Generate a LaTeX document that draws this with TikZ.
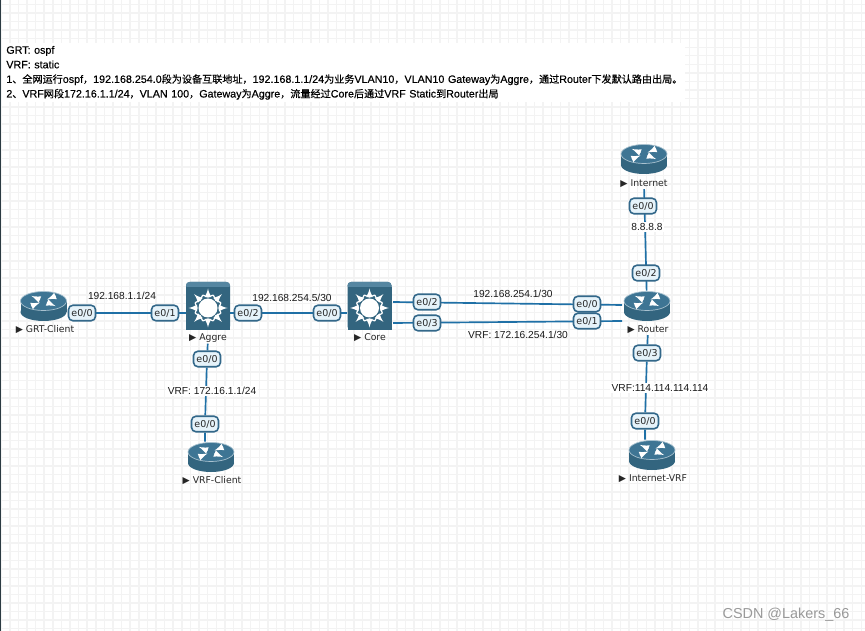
\documentclass[tikz,border=0pt]{standalone}
\usepackage{fontspec}
\setmainfont{Liberation Sans}
\newfontfamily\cjk[FakeBold=0.35]{Noto Sans CJK SC}
\newfontfamily\notefont[FakeBold=0.35]{Liberation Sans}
\newfontfamily\labelfont{DejaVu Sans}
\newcommand{\cn}[1]{{\cjk\fontsize{5.75}{8.3}\selectfont #1}}
\usetikzlibrary{positioning,backgrounds}
\definecolor{icondark}{HTML}{33657F}
\definecolor{icontop}{HTML}{3E7594}
\definecolor{linkblue}{HTML}{1F70A6}
\definecolor{portedge}{HTML}{33688A}
\definecolor{portfill}{HTML}{E6F3FA}
\definecolor{gridgrey}{HTML}{F3F3F3}
\definecolor{frameline}{HTML}{2B3A42}

\tikzset{
  routerbox/.style={minimum width=0.92cm, minimum height=0.6cm, inner sep=0pt},
  switchbox/.style={minimum width=0.88cm, minimum height=0.96cm, inner sep=0pt},
  portbox/.style={draw=portedge, line width=0.9pt, fill=portfill, rounded corners=2.5pt,
    minimum width=0.54cm, minimum height=0.31cm, inner sep=0pt, text=black!85,
    font=\labelfont\fontsize{5.4}{6}\selectfont},
  namelabel/.style={inner sep=0.5pt, text=black!85, font=\labelfont\fontsize{5.3}{6}\selectfont},
  addrlabel/.style={fill=white, inner sep=1pt, text=black!90, font=\fontsize{5.8}{7}\selectfont},
  link/.style={draw=linkblue, line width=0.95pt},
  routericon/.pic={
    \fill[icondark] (-23,-5) rectangle (23,6);
    \fill[icondark] (0,6) ellipse [x radius=23, y radius=9];
    \fill[icontop, draw=white!55!icontop, line width=0.4pt] (0,-5) ellipse [x radius=23, y radius=9.5];
    \begin{scope}[shift={(0,-5)}, yscale=0.42]
      \foreach \a in {45,225} \draw[white, line width=0.8pt, -latex] (\a:5) -- (\a:17);
      \foreach \a in {135,315} \draw[white, line width=0.8pt, -latex] (\a:17) -- (\a:5);
    \end{scope}
  },
  switchicon/.pic={
    \fill[icondark, rounded corners=2pt] (-22,-24) rectangle (22,24);
    \fill[white!12!icontop, rounded corners=2pt] (-22,-24) rectangle (22,-17);
    \fill[icondark] (-22,-19) rectangle (22,24);
    \begin{scope}[shift={(0,2)}]
      \foreach \a in {0,45,...,315} {
        \draw[white, line width=0.7pt, -latex] (\a:12) -- (\a:19.5);
        \draw[white, line width=0.7pt] (\a-22.5:14) -- (\a:11) -- (\a+22.5:14);
      }
      \fill[white] (0,0) circle [radius=9.5];
    \end{scope}
  }
}

\begin{document}
\begin{tikzpicture}[x=0.02cm, y=-0.02cm]
  \useasboundingbox (0,0) rectangle (865,631);

  % devices
  \node [routerbox] (grt) at (43.5,306) {};
  \node [routerbox] (vrfclient) at (211,457) {};
  \node [routerbox] (internet) at (644,159) {};
  \node [routerbox] (router) at (647,306) {};
  \node [routerbox] (internetvrf) at (652,455) {};
  \node [switchbox] (aggre) at (208,306) {};
  \node [switchbox] (core) at (369.5,306) {};
  \pic at (grt) {routericon};
  \pic at (vrfclient) {routericon};
  \pic at (internet) {routericon};
  \pic at (router) {routericon};
  \pic at (internetvrf) {routericon};
  \pic at (aggre) {switchicon};
  \pic at (core) {switchicon};

  % names
  \node [namelabel] (grtname) at (45,330) {▶ GRT-Client};
  \node [namelabel] (aggrename) at (208,338) {▶ Aggre};
  \node [namelabel] (corename) at (370,338) {▶ Core};
  \node [namelabel] (routername) at (648,330) {▶ Router};
  \node [namelabel] (internetname) at (644,184) {▶ Internet};
  \node [namelabel] (vrfclientname) at (212,481) {▶ VRF-Client};
  \node [namelabel] (internetvrfname) at (653,479) {▶ Internet-VRF};

  % ports
  \node [portbox] (grtp0) at (82,313) {e0/0};
  \node [portbox] (aggrep1) at (165,313) {e0/1};
  \node [portbox] (aggrep2) at (248,313) {e0/2};
  \node [portbox] (corep0) at (327,313) {e0/0};
  \node [portbox] (corep2) at (427,302) {e0/2};
  \node [portbox] (corep3) at (427,323) {e0/3};
  \node [portbox] (routerp0) at (587,304) {e0/0};
  \node [portbox] (routerp1) at (587,321) {e0/1};
  \node [portbox] (routerp2) at (646,273) {e0/2};
  \node [portbox] (routerp3) at (647,353) {e0/3};
  \node [portbox] (internetp0) at (643,206) {e0/0};
  \node [portbox] (ivrfp0) at (645,421) {e0/0};
  \node [portbox] (aggrep0) at (207,359) {e0/0};
  \node [portbox] (vrfclientp0) at (205,424) {e0/0};

  % addresses
  \node [addrlabel, fill=none] (grtaddr) at (122,296) {192.168.1.1/24};
  \node [addrlabel, fill=none] (aggreaddr) at (292,298) {192.168.254.5/30};
  \node [addrlabel, fill=none] (routeraddr) at (513,294) {192.168.254.1/30};
  \node [addrlabel, fill=none] (vrfaddr) at (518,335) {VRF: 172.16.254.1/30};
  \node [addrlabel] (aggrevrf) at (212,391) {VRF: 172.16.1.1/24};
  \node [addrlabel] (internetaddr) at (647,227) {8.8.8.8};
  \node [addrlabel] (ivrfaddr) at (660,388) {VRF:114.114.114.114};

  % side ends of the links
  \coordinate (coreupper) at (393,302);
  \coordinate (corelower) at (393,323);
  \coordinate (routerupper) at (622,305);
  \coordinate (routerlower) at (622,321);

  \begin{scope}[on background layer]
    \fill[white] (0,0) rectangle (865,631);
    \foreach \i in {0,...,100} \draw[gridgrey, line width=0.8pt] (1.2+8.6*\i,0) -- (1.2+8.6*\i,631);
    \foreach \i in {0,...,73} \draw[gridgrey, line width=0.8pt] (0,4.5+8.55*\i) -- (865,4.5+8.55*\i);
    \fill[frameline] (0,0) rectangle (1.5,631);
    \draw[link] (grtp0) -- (aggrep1) -- (aggre.west |- aggrep1);
    \draw[link] (aggre.east |- aggrep2) -- (aggrep2) -- (corep0) -- (core.west |- corep0);
    \draw[link] (coreupper) -- (routerupper);
    \draw[link] (corelower) -- (routerlower);
    \draw[link] (internetname) -- (router);
    \draw[link] (routername) -- (routerp3) -- (ivrfp0) -- (ivrfp0 |- internetvrf.north);
    \draw[link] (aggrename) -- (aggrep0) -- (vrfclientp0) -- (vrfclientp0 |- vrfclient.north);
  \end{scope}

  % notes
  \node [anchor=north west, fill=white, inner xsep=0.08cm, inner ysep=0pt, minimum height=1.18cm,
    text width=13.5cm, align=left, font=\notefont\fontsize{6.1}{8.3}\selectfont] (notes) at (2,43)
    {GRT: ospf\\
     VRF: static\\
     \mbox{1\cn{、全网运行}ospf\cn{，}192.168.254.0\cn{段为设备互联地址，}192.168.1.1/24\cn{为业务}VLAN10\cn{，}VLAN10 Gateway\cn{为}Aggre\cn{，通过}Router\cn{下发默认路由出局。}}\\
     2\cn{、}VRF\cn{网段}172.16.1.1/24\cn{，}VLAN 100\cn{，}Gateway\cn{为}Aggre\cn{，流量经过}Core\cn{后通过}VRF Static\cn{到}Router\cn{出局}};

  \node [text=black!40, font=\fontsize{8.2}{10}\selectfont] (mark) at (786,615) {CSDN @Lakers\_66};
\end{tikzpicture}
\end{document}
